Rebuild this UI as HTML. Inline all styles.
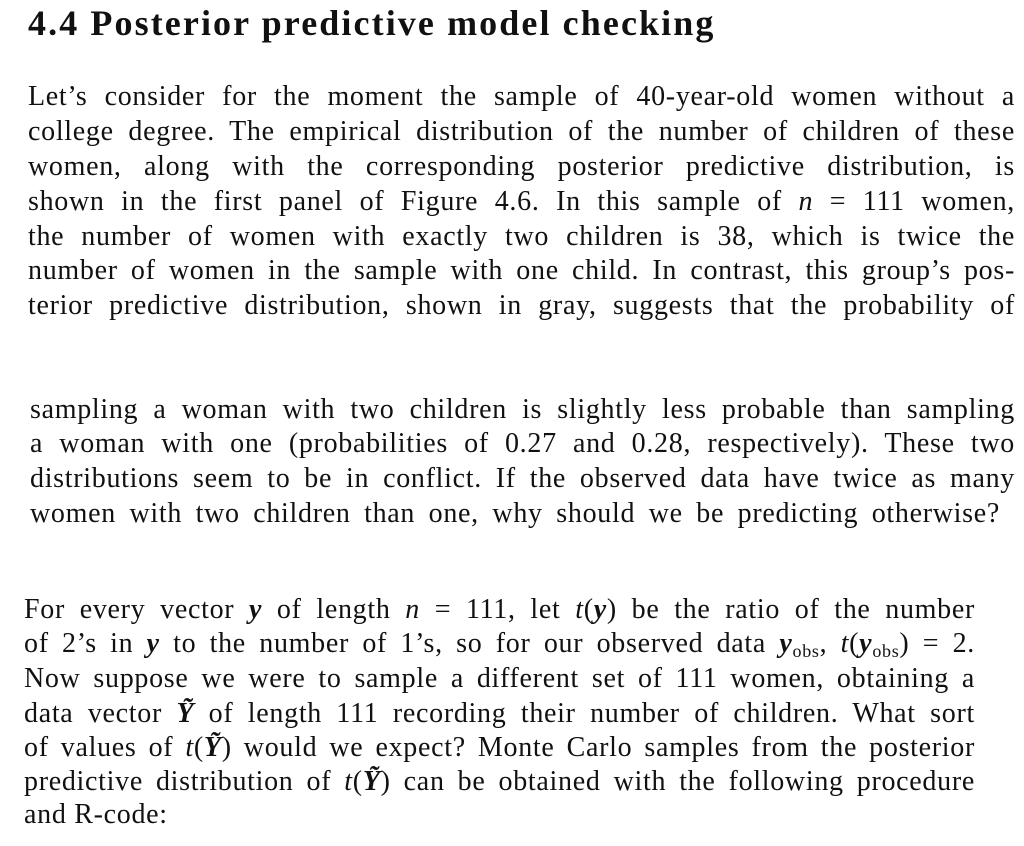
<!DOCTYPE html>
<html><head><meta charset="utf-8"><style>
body{margin:0;width:1024px;height:846px;background:#fff;overflow:hidden;position:relative;font-family:"Liberation Serif",serif;color:#111}
.l{position:absolute;font-size:28px;letter-spacing:0.7px;line-height:34px;white-space:nowrap;text-align:justify;text-align-last:justify}
.t{position:absolute;left:28px;top:2px;font-size:36px;letter-spacing:2.1px;font-weight:bold;white-space:nowrap}
i.v{font-style:italic;font-weight:bold}
sub{font-size:18px;vertical-align:-5px;line-height:0}
</style></head><body>
<div class="t">4.4 Posterior predictive model checking</div>

<div class="l" style="left:28px;width:987px;top:80px">Let’s consider for the moment the sample of 40-year-old women without a</div>
<div class="l" style="left:28px;width:987px;top:115px">college degree. The empirical distribution of the number of children of these</div>
<div class="l" style="left:28px;width:987px;top:150px">women, along with the corresponding posterior predictive distribution, is</div>
<div class="l" style="left:28px;width:987px;top:185px">shown in the first panel of Figure 4.6. In this sample of <i>n</i> = 111 women,</div>
<div class="l" style="left:28px;width:987px;top:220px">the number of women with exactly two children is 38, which is twice the</div>
<div class="l" style="left:28px;width:987px;top:254px">number of women in the sample with one child. In contrast, this group’s pos-</div>
<div class="l" style="left:28px;width:987px;top:289px">terior predictive distribution, shown in gray, suggests that the probability of</div>

<div class="l" style="left:30px;width:985px;top:393px">sampling a woman with two children is slightly less probable than sampling</div>
<div class="l" style="left:30px;width:985px;top:427px">a woman with one (probabilities of 0.27 and 0.28, respectively). These two</div>
<div class="l" style="left:30px;width:985px;top:462px">distributions seem to be in conflict. If the observed data have twice as many</div>
<div class="l" style="left:30px;width:970px;top:497px">women with two children than one, why should we be predicting otherwise?</div>

<div class="l" style="left:24px;width:951px;top:593px">For every vector <i class="v">y</i> of length <i>n</i> = 111, let <i>t</i>(<i class="v">y</i>) be the ratio of the number</div>
<div class="l" style="left:24px;width:951px;top:627px">of 2’s in <i class="v">y</i> to the number of 1’s, so for our observed data <i class="v">y</i><sub>obs</sub>, <i>t</i>(<i class="v">y</i><sub>obs</sub>) = 2.</div>
<div class="l" style="left:24px;width:951px;top:662px">Now suppose we were to sample a different set of 111 women, obtaining a</div>
<div class="l" style="left:24px;width:951px;top:697px">data vector <i class="v">Ỹ</i> of length 111 recording their number of children. What sort</div>
<div class="l" style="left:24px;width:951px;top:731px">of values of <i>t</i>(<i class="v">Ỹ</i>) would we expect? Monte Carlo samples from the posterior</div>
<div class="l" style="left:24px;width:951px;top:765px">predictive distribution of <i>t</i>(<i class="v">Ỹ</i>) can be obtained with the following procedure</div>
<div class="l" style="left:24px;top:798px;text-align-last:left">and R-code:</div>
</body></html>
